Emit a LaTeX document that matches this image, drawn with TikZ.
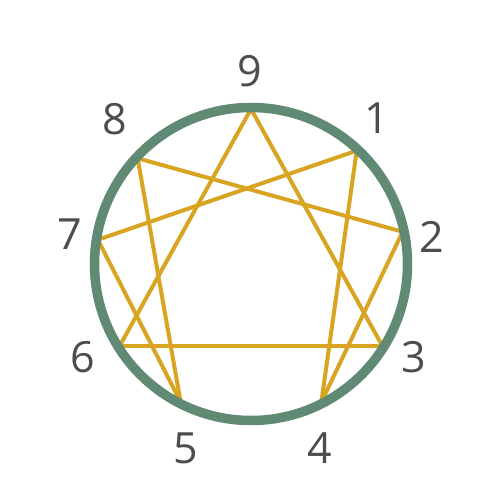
\documentclass[tikz,border=0pt]{standalone}
\usepackage{fontspec}
\setmainfont{Open Sans}
\usetikzlibrary{calc}
\definecolor{ring}{RGB}{96,138,116}
\definecolor{gold}{RGB}{216,164,34}
\definecolor{txt}{RGB}{77,77,77}
\begin{document}
\begin{tikzpicture}[x=1pt,y=1pt,
  num/.style={inner sep=0pt,text=txt,font=\fontsize{43}{43}\selectfont},
  goldline/.style={draw=gold,line width=4pt},
  ringline/.style={draw=ring,line width=9.5pt}]
\useasboundingbox (0,0) rectangle (500,500);
\coordinate (c) at (251,236);
\coordinate (v9) at ($(c)+(90:155)$);
\coordinate (v1) at ($(c)+(47:155)$);
\coordinate (v2) at ($(c)+(12:155)$);
\coordinate (v3) at ($(c)+(-32:155)$);
\coordinate (v4) at ($(c)+(-63:155)$);
\coordinate (v5) at ($(c)+(-117:155)$);
\coordinate (v6) at ($(c)+(-148:155)$);
\coordinate (v7) at ($(c)+(171:155)$);
\coordinate (v8) at ($(c)+(137:155)$);
\foreach \a/\b in {v9/v3,v3/v6,v6/v9,v1/v4,v4/v2,v2/v8,v8/v5,v5/v7,v7/v1}
  \draw[goldline] (\a) -- (\b);
\draw[ringline] (c) circle (156.5);
\node[num] (l9) at (250,429) {9};
\node[num] (l1) at (377,382) {1};
\node[num] (l2) at (432,263) {2};
\node[num] (l3) at (414,143) {3};
\node[num] (l4) at (320,52) {4};
\node[num] (l5) at (186,52) {5};
\node[num] (l6) at (83,143) {6};
\node[num] (l7) at (70,266) {7};
\node[num] (l8) at (115,381) {8};
\end{tikzpicture}
\end{document}
